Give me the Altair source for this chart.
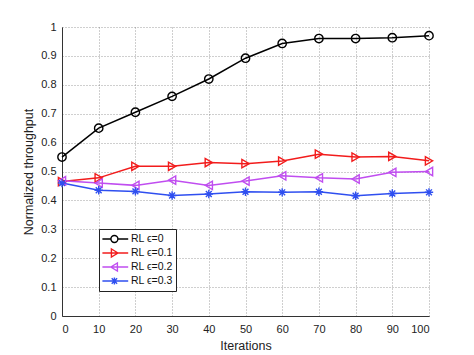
import altair as alt
import pandas as pd

iterations = [0, 10, 20, 30, 40, 50, 60, 70, 80, 90, 100]
series_names = ["RL ϵ=0", "RL ϵ=0.1", "RL ϵ=0.2", "RL ϵ=0.3"]
eps0 = [0.55, 0.65, 0.705, 0.76, 0.82, 0.892, 0.943, 0.96, 0.96, 0.963, 0.97]
eps01 = [0.465, 0.478, 0.518, 0.518, 0.531, 0.527, 0.536, 0.56, 0.55, 0.552, 0.537]
eps02 = [0.468, 0.46, 0.452, 0.47, 0.452, 0.467, 0.485, 0.478, 0.474, 0.497, 0.5]
eps03 = [0.46, 0.435, 0.431, 0.417, 0.422, 0.43, 0.428, 0.43, 0.416, 0.424, 0.428]
colors = ["#000000", "#f21c1c", "#c04df0", "#2f4ff0"]

rows = []
for name, vals in zip(series_names, [eps0, eps01, eps02, eps03]):
    for x, y in zip(iterations, vals):
        rows.append({"iter": x, "val": y, "series": name})
df = pd.DataFrame(rows)

FONT = "Liberation Sans"
point_shapes = [
    "circle",
    "triangle-right",
    "triangle-left",
    "M-1,0L1,0M0,-1L0,1M-0.7,-0.7L0.7,0.7M-0.7,0.7L0.7,-0.7",
]
# legend glyphs: a short line with the marker in its middle (units of 6 px)
legend_shapes = [
    "M-1.1,0L0.32,0M1.48,0L3.2,0M0.32,0A0.58,0.58 0 1,1 1.48,0A0.58,0.58 0 1,1 0.32,0",
    "M-1.1,0L3.2,0M1.5,0L0.4,-0.68L0.4,0.68Z",
    "M-1.1,0L3.2,0M0.3,0L1.4,-0.68L1.4,0.68Z",
    "M-1.1,0L3.2,0M0.9,-0.6L0.9,0.6M0.45,-0.45L1.35,0.45M0.45,0.45L1.35,-0.45M0.3,0L1.5,0",
]

# stroke colour expression for legend symbols, built from the lists above
stroke_expr = "'#000000'"
for name, col in reversed(list(zip(series_names, colors))):
    stroke_expr = f"datum.value == '{name}' ? '{col}' : ({stroke_expr})"

x_enc = alt.X(
    "iter:Q",
    scale=alt.Scale(domain=[0, 100], nice=False),
    axis=alt.Axis(values=iterations, title="Iterations", format="d"),
)
y_enc = alt.Y(
    "val:Q",
    scale=alt.Scale(domain=[0, 1], nice=False),
    axis=alt.Axis(values=[i / 10 for i in range(11)], title="Normalized throughput",
                  labelExpr="datum.value == 0 ? '0' : datum.value == 1 ? '1' : format(datum.value, '.1f')"),
)
color_scale = alt.Scale(domain=series_names, range=colors)

lines = alt.Chart(df).mark_line(strokeWidth=1.5).encode(
    x=x_enc, y=y_enc,
    color=alt.Color("series:N", scale=color_scale, legend=None),
    detail="series:N",
)
points = alt.Chart(df).mark_point(filled=False, size=70, strokeWidth=1.4, opacity=1).encode(
    x=x_enc, y=y_enc,
    color=alt.Color("series:N", scale=color_scale, legend=None),
    shape=alt.Shape("series:N", scale=alt.Scale(domain=series_names, range=point_shapes), legend=None),
)
legend_layer = alt.Chart(df).mark_point(filled=False, opacity=1).transform_filter("false").encode(
    x=x_enc, y=y_enc,
    shape=alt.Shape(
        "series:N",
        scale=alt.Scale(domain=series_names, range=legend_shapes),
        legend=alt.Legend(
            title=None, orient="none", legendX=37, legendY=202,
            symbolStrokeColor=alt.ExprRef(expr=stroke_expr),
            symbolFillColor="transparent",
        ),
    ),
)

chart = (
    alt.layer(lines, points, legend_layer)
    .resolve_scale(shape="independent")
    .properties(
        width=367, height=289,
        autosize=alt.AutoSizeParams(type="none"),
        padding={"left": 62, "top": 27, "right": 45, "bottom": 39},
    )
    .configure_view(stroke=None)
    .configure_axis(
        labelFont=FONT, titleFont=FONT, labelFontSize=11, titleFontSize=12.5,
        labelColor="#222222", titleColor="#222222", titleFontWeight="normal",
        domainColor="#333333", domainWidth=1,
        gridColor="#666666", gridDash=[1, 2], gridWidth=0.7, gridOpacity=0.9,
        ticks=False, labelPadding=6,
    )
    .configure_axisY(titlePadding=5)
    .configure_axisX(titlePadding=5, labelPadding=7)
    .configure_legend(
        labelFont=FONT, labelFontSize=10.5, labelColor="#111111",
        strokeColor="#222222", fillColor="white", padding=3,
        symbolSize=144, symbolStrokeWidth=1.4, rowPadding=0, labelOffset=15,
    )
)

chart.save("out.html", embed_options={"renderer": "svg", "actions": False})
